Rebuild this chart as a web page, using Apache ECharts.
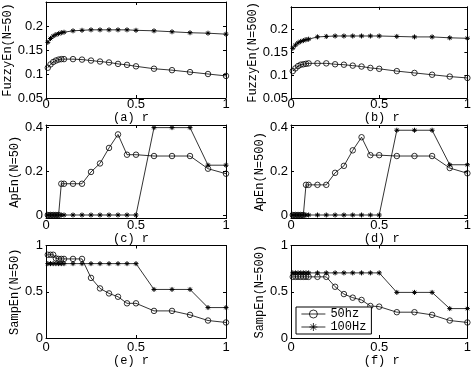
<!DOCTYPE html>
<html><head><meta charset="utf-8">
<script src="https://cdn.jsdelivr.net/npm/echarts@6/dist/echarts.min.js"></script>
<style>html,body{margin:0;padding:0;background:#fff}#c{width:474px;height:381px}</style>
</head><body><div id="c"></div>
<script>
// r values (x axis)
const r = [0.01,0.025,0.04,0.055,0.07,0.085,0.1,0.15,0.2,0.25,0.3,0.35,0.4,0.45,0.5,0.6,0.7,0.8,0.9,1.0];

// (a) FuzzyEn N=50
const fuzzyN50_50hz  = [0.113,0.120,0.125,0.128,0.130,0.131,0.131,0.131,0.130,0.128,0.126,0.124,0.121,0.119,0.116,0.111,0.108,0.104,0.100,0.096];
const fuzzyN50_100Hz = [0.166,0.174,0.179,0.182,0.184,0.186,0.187,0.190,0.191,0.192,0.192,0.192,0.192,0.192,0.191,0.190,0.188,0.186,0.185,0.183];
// (b) FuzzyEn N=500
const fuzzyN500_50hz  = [0.109,0.115,0.120,0.123,0.124,0.125,0.126,0.126,0.126,0.124,0.123,0.121,0.119,0.116,0.114,0.109,0.105,0.101,0.097,0.094];
const fuzzyN500_100Hz = [0.159,0.166,0.171,0.174,0.176,0.178,0.179,0.184,0.185,0.186,0.186,0.186,0.186,0.186,0.186,0.185,0.184,0.184,0.182,0.181];
// (c) ApEn N=50
const apN50_50hz  = [0,0,0,0,0,0.143,0.143,0.143,0.143,0.197,0.236,0.307,0.369,0.276,0.276,0.270,0.270,0.270,0.212,0.189];
const apN50_100Hz = [0,0,0,0,0,0,0,0,0,0,0,0,0,0,0,0.400,0.400,0.400,0.228,0.228];
// (d) ApEn N=500
const apN500_50hz  = [0,0,0,0,0,0.138,0.138,0.138,0.138,0.193,0.225,0.296,0.356,0.274,0.274,0.270,0.270,0.270,0.215,0.191];
const apN500_100Hz = [0,0,0,0,0,0,0,0,0,0,0,0,0,0,0,0.388,0.388,0.388,0.230,0.230];
// (e) SampEn N=50
const sampN50_50hz  = [0.900,0.900,0.900,0.860,0.855,0.855,0.855,0.855,0.855,0.650,0.536,0.482,0.446,0.375,0.375,0.293,0.293,0.250,0.189,0.168];
const sampN50_100Hz = [0.804,0.804,0.804,0.804,0.804,0.804,0.804,0.804,0.804,0.804,0.804,0.804,0.804,0.804,0.804,0.525,0.525,0.525,0.329,0.329];
// (f) SampEn N=500
const sampN500_50hz  = [0.661,0.661,0.661,0.661,0.661,0.661,0.661,0.661,0.661,0.554,0.475,0.436,0.411,0.346,0.339,0.279,0.279,0.250,0.189,0.168];
const sampN500_100Hz = [0.704,0.704,0.704,0.704,0.704,0.704,0.704,0.704,0.704,0.704,0.704,0.704,0.704,0.704,0.704,0.493,0.493,0.493,0.318,0.318];

const seriesNames = ['50hz','100Hz'];
const xTicks = [0,0.5,1];
const yTicksFuzzy = [0.05,0.1,0.15,0.2];
const yTicksAp = [0,0.2,0.4];
const yTicksSamp = [0,0.5,1];

const panels = [
  {xName:'(a) r', yName:'FuzzyEn(N=50)',  d:[fuzzyN50_50hz,fuzzyN50_100Hz],   yMin:0.05, yMax:0.25, yt:yTicksFuzzy},
  {xName:'(b) r', yName:'FuzzyEn(N=500)', d:[fuzzyN500_50hz,fuzzyN500_100Hz], yMin:0.05, yMax:0.25, yt:yTicksFuzzy},
  {xName:'(c) r', yName:'ApEn(N=50)',     d:[apN50_50hz,apN50_100Hz],         yMin:-0.016, yMax:0.412, yt:yTicksAp},
  {xName:'(d) r', yName:'ApEn(N=500)',    d:[apN500_50hz,apN500_100Hz],       yMin:-0.016, yMax:0.412, yt:yTicksAp},
  {xName:'(e) r', yName:'SampEn(N=50)',   d:[sampN50_50hz,sampN50_100Hz],     yMin:0, yMax:1, yt:yTicksSamp},
  {xName:'(f) r', yName:'SampEn(N=500)',  d:[sampN500_50hz,sampN500_100Hz],   yMin:0, yMax:1, yt:yTicksSamp}
];
const lefts = [46, 291];
const widths = [180, 179];
const rows = [{top:2, h:96, lm:0, ng:12}, {top:125, h:93.5, lm:0, ng:11}, {top:245.5, h:92.5, lm:2.5, ng:13}];
const xNameShift = [-5, 2.5];

const mono = 'Liberation Mono';
const sans = 'Liberation Sans';
const star = 'path://M0 5L10 5M5 0L5 10M1.6 1.6L8.4 8.4M8.4 1.6L1.6 8.4';

const grids=[], xAxes=[], yAxes=[], series=[];
panels.forEach((p,i)=>{
  const col = i%2, row = Math.floor(i/2);
  const R = rows[row];
  grids.push({left:lefts[col], top:R.top, width:widths[col], height:R.h, containLabel:false});
  const lineS = {show:true, onZero:false, lineStyle:{color:'#000', width:1}};
  const sh = xNameShift[col];
  xAxes.push({type:'value', gridIndex:i, min:0, max:1, position:'bottom',
    axisLine:lineS, splitLine:{show:false},
    axisTick:{inside:true, length:3, customValues:xTicks, lineStyle:{color:'#000'}},
    axisLabel:{customValues:xTicks, color:'#000', fontFamily:sans, fontSize:13, margin:R.lm},
    name:p.xName, nameLocation:'middle', nameGap:R.ng,
    nameTextStyle:{fontFamily:mono, fontSize:12, color:'#000', padding: sh<0 ? [0,-2*sh,0,0] : [0,0,0,2*sh]}
  });
  xAxes.push({type:'value', gridIndex:i, min:0, max:1, position:'top',
    axisLine:lineS, splitLine:{show:false},
    axisTick:{inside:true, length:3, customValues:xTicks, lineStyle:{color:'#000'}},
    axisLabel:{show:false}
  });
  yAxes.push({type:'value', gridIndex:i, min:p.yMin, max:p.yMax, position:'left',
    axisLine:lineS, splitLine:{show:false},
    axisTick:{inside:true, length:3, customValues:p.yt, lineStyle:{color:'#000'}},
    axisLabel:{customValues:p.yt, color:'#000', fontFamily:sans, fontSize:13, margin:3},
    name:p.yName, nameLocation:'middle', nameGap:24,
    nameTextStyle:{fontFamily:mono, fontSize:12, color:'#000'}
  });
  yAxes.push({type:'value', gridIndex:i, min:p.yMin, max:p.yMax, position:'right',
    axisLine:lineS, splitLine:{show:false},
    axisTick:{inside:true, length:3, customValues:p.yt, lineStyle:{color:'#000'}},
    axisLabel:{show:false}
  });
  p.d.forEach((vals,k)=>{
    series.push({
      type:'line', name:seriesNames[k], xAxisIndex:2*i, yAxisIndex:2*i,
      data:r.map((x,j)=>[x, vals[j]]),
      symbol: k===0 ? 'circle' : star,
      symbolSize: k===0 ? 5.5 : 5,
      showAllSymbol:true,
      lineStyle:{color:'#000', width:0.8},
      itemStyle:{color:'rgba(255,255,255,0)', borderColor:'#000', borderWidth: k===0 ? 0.8 : 1},
      emphasis:{disabled:true},
      animation:false,
      z: 2+k
    });
  });
});

const chart = echarts.init(document.getElementById('c'), null, {renderer:'canvas'});
chart.setOption({
  backgroundColor:'#fff',
  animation:false,
  grid:grids, xAxis:xAxes, yAxis:yAxes, series:series,
  legend:{
    data:seriesNames, orient:'vertical', left:296, top:307,
    backgroundColor:'#fff', borderColor:'#000', borderWidth:1,
    padding:[1,5,1,5], itemGap:1, itemWidth:24, itemHeight:10,
    lineStyle:{width:0.8, color:'#000'},
    itemStyle:{borderWidth:0.8, borderColor:'#000'},
    textStyle:{fontFamily:mono, fontSize:12, color:'#000', lineHeight:12},
    selectedMode:false
  }
});
</script></body></html>
